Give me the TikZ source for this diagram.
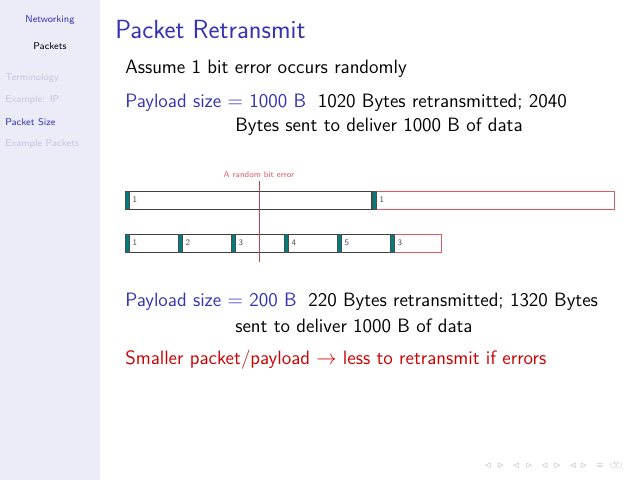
\documentclass[tikz,border=0pt]{standalone}
\usepackage{amsmath,amssymb}
\usepackage{tikz}
\usetikzlibrary{positioning, calc}
\definecolor{beamblue}{RGB}{51, 51, 179}
\definecolor{sidebg}{RGB}{236, 236, 248}
\definecolor{sidefade}{RGB}{196, 196, 226}
\definecolor{errred}{RGB}{204, 0, 0}
\definecolor{boxred}{RGB}{222, 90, 100}
\definecolor{hdrteal}{RGB}{0, 125, 125}
\newcommand{\pblue}[1]{\textcolor{beamblue}{#1}}

\begin{document}
\begin{tikzpicture}[
    x=0.025cm, y=-0.025cm,
    body/.style={anchor=west, font=\sffamily\fontsize{13.75}{16}\selectfont, inner sep=0pt},
    side/.style={font=\sffamily\scriptsize, inner sep=0pt},
    pkt/.style={draw=black!75, line width=0.5pt, minimum height=0.45cm, anchor=west,
                inner sep=0pt},
    redpkt/.style={pkt, draw=boxred, line width=0.7pt},
    hdr/.style={fill=hdrteal, draw=black!70, line width=0.3pt,
                minimum width=0.1cm, minimum height=0.45cm, inner sep=0pt},
    num/.style={font=\sffamily\fontsize{6}{7}\selectfont, text=black!70, inner sep=0pt},
  ]
    \useasboundingbox (0,0) rectangle (640,480);
    % sidebar
    \fill[sidebg] (0,0) rectangle (100,480);
    \node[side, text=beamblue] (sNet) at (50,20) {Networking};
    \node[side] (sPkt) at (50,46) {Packets};
    \node[side, anchor=west, text=sidefade] (sTerm) at (5,78) {Terminology};
    \node[side, anchor=west, text=sidefade] (sIP) at (5,100) {Example: IP};
    \node[side, anchor=west, text=beamblue] (sSize) at (5,122) {Packet Size};
    \node[side, anchor=west, text=sidefade] (sEx) at (5,144) {Example Packets};

    % title and text
    \node[anchor=west, font=\sffamily\fontsize{18.7}{22}\selectfont, text=beamblue, inner sep=0pt]
      (title) at (115,29) {Packet Retransmit};
    \node[body] (assume) at (125,69) {Assume 1 bit error occurs randomly};
    \node[body] (big1) at (125,103)
      {\pblue{Payload size $=$ 1000 B}\; 1020 Bytes retransmitted; 2040};
    \node[body] (big2) at (235,127) {Bytes sent to deliver 1000 B of data};
    \node[body] (small1) at (125,302)
      {\pblue{Payload size $=$ 200 B}\; 220 Bytes retransmitted; 1320 Bytes};
    \node[body] (small2) at (235,326) {sent to deliver 1000 B of data};
    \node[body, text=errred] (concl) at (125,360)
      {Smaller packet/payload $\rightarrow$ less to retransmit if errors};

    % large packets
    \node[pkt, minimum width=6.15cm] (L1) at (125,200) {};
    \node[redpkt, minimum width=6.05cm] (L2) at (372,200) {};
    \foreach \p in {L1, L2} {
      \node[hdr, anchor=west] (h\p) at (\p.west) {};
      \node[num, right=2pt of h\p] {1};
    }

    % small packets
    \foreach \i/\n in {1/1, 2/2, 3/3, 4/4, 5/5} {
      \node[pkt, minimum width=1.325cm] (S\i) at ({125+53*(\i-1)},243) {};
      \node[hdr, anchor=west] (hS\i) at (S\i.west) {};
      \node[num, right=2pt of hS\i] {\n};
    }
    \node[redpkt, minimum width=1.275cm] (S6) at (390,243) {};
    \node[hdr, anchor=west] (hS6) at (S6.west) {};
    \node[num, right=2pt of hS6] {3};

    % bit error marker
    \coordinate (errTop) at (259,181);
    \coordinate (errBot) at (259,262);
    \draw[boxred!80!black, line width=0.5pt] (errTop) -- (errBot);
    \node[num, text=boxred, above=2pt of errTop] (errLbl)
      {A random bit error};

    % navigation symbols
    \node[font=\tiny, text=black!35, anchor=east] (nav) at (628,466)
      {$\lhd\;\rhd\;\;\lhd\;\rhd\;\;\lhd\;\rhd\;\;\lhd\;\rhd\;\;\equiv\;\;\circlearrowleft\!\circlearrowright$};
  \end{tikzpicture}
\end{document}
